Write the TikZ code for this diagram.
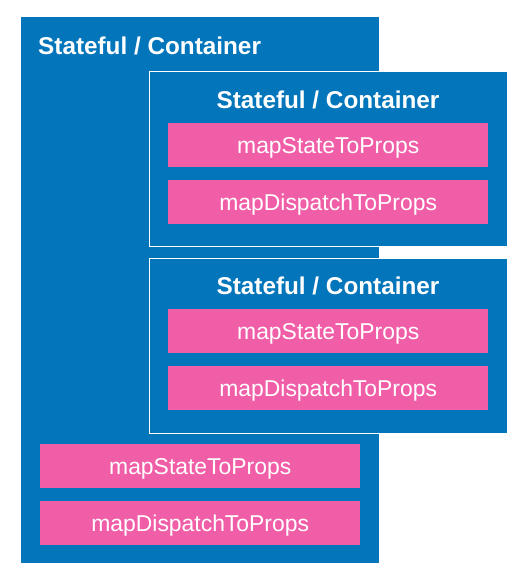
\documentclass[tikz,border=0pt]{standalone}
\usepackage{fontspec}
\setmainfont{Liberation Sans}
\definecolor{boxblue}{RGB}{2,117,187}
\definecolor{boxpink}{RGB}{241,94,168}
\begin{document}
\begin{tikzpicture}[x=1pt,y=-1pt,
  container/.style={fill=boxblue, draw=none, inner sep=0, anchor=north west},
  subcontainer/.style={fill=boxblue, draw=white, line width=1pt, inner sep=0, anchor=north west,
    minimum width=358pt, minimum height=175pt},
  title/.style={text=white, font=\bfseries\fontsize{24.3}{28}\selectfont, inner sep=0},
  propbox/.style={fill=boxpink, text=white, inner sep=0, anchor=north west,
    minimum width=320pt, text height=30.5pt, text depth=13.5pt,
    font=\fontsize{22.9}{26}\selectfont}
]
\useasboundingbox (0,0) rectangle (520,574);
% outer container
\node[container, minimum width=358pt, minimum height=546pt] (outer) at (21,17) {};
\node[title, anchor=base west] (outertitle) at (38,54) {Stateful / Container};
% first inner container
\node[subcontainer] (inner1) at (149,71) {};
\node[title, anchor=base] (title1) at (328,108) {Stateful / Container};
\node[propbox] (s1) at (168,123) {mapStateToProps};
\node[propbox] (d1) at (168,180) {mapDispatchToProps};
% second inner container
\node[subcontainer] (inner2) at (149,258) {};
\node[title, anchor=base] (title2) at (328,294) {Stateful / Container};
\node[propbox] (s2) at (168,309) {mapStateToProps};
\node[propbox] (d2) at (168,366) {mapDispatchToProps};
% outer props
\node[propbox] (s0) at (40,444) {mapStateToProps};
\node[propbox] (d0) at (40,501) {mapDispatchToProps};
\end{tikzpicture}
\end{document}
